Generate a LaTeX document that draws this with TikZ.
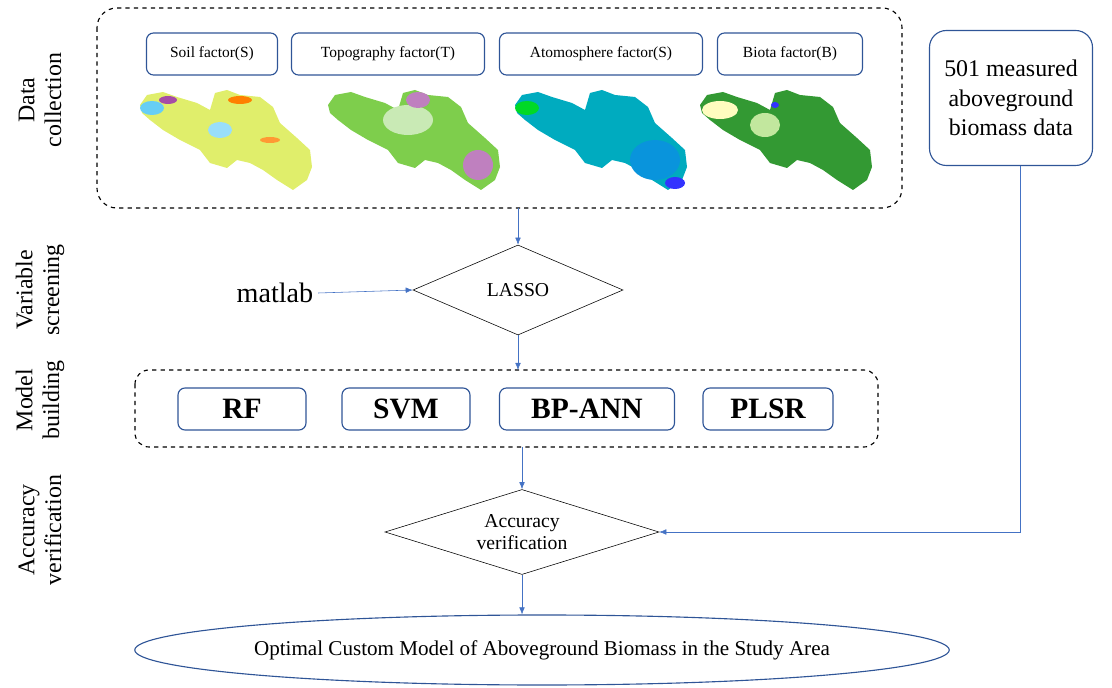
\documentclass[tikz,border=0pt]{standalone}
\usepackage{fontspec}
\setmainfont{Liberation Serif}
\usetikzlibrary{shapes.geometric,arrows.meta}
\definecolor{bx}{RGB}{47,85,151}
\definecolor{ar}{RGB}{68,114,196}
\begin{document}
\begin{tikzpicture}[x=0.025cm,y=-0.025cm,
  fbox/.style={draw=bx,rounded corners=5pt,thick,inner sep=0pt,font=\fontsize{11}{13}\selectfont},
  mbox/.style={draw=bx,rounded corners=5pt,thick,inner sep=0pt,font=\fontsize{21}{24}\selectfont\bfseries},
  dia/.style={draw,diamond,aspect=2.3,inner sep=0pt,font=\fontsize{14}{16}\selectfont,align=center},
  arr/.style={draw=ar,-{Latex[length=5pt,width=4pt]}},
  side/.style={rotate=90,align=center,font=\fontsize{17}{19}\selectfont},
  dsh/.style={draw,dashed,rounded corners=14pt,thick}]
\useasboundingbox (0,0) rectangle (1112,688);
\def\outline{(10,25)--(17,15)--(33,12)--(47,17)--(67,23)--(80,30)--(85,13)--(97,10)--(110,15)--(130,17)--(143,27)--(150,43)--(167,58)--(180,70)--(182,87)--(177,100)--(163,110)--(147,100)--(133,90)--(120,83)--(107,80)--(97,88)--(80,83)--(70,70)--(50,60)--(33,50)--(20,40)--(12,33)--cycle}
% maps
\begin{scope}[shift={(130,80)}]
 \fill[yellow!80!green!60] \outline;
 \fill[cyan!60] (22,28) ellipse (12 and 7); \fill[violet!70] (38,20) ellipse (9 and 4);
 \fill[orange] (110,20) ellipse (12 and 4); \fill[orange!80] (140,60) ellipse (10 and 3);
 \fill[cyan!40] (90,50) ellipse (12 and 8);
\end{scope}
\begin{scope}[shift={(318,80)}]
 \fill[green!45!olive!70] \outline;
 \fill[yellow!30!green!30] (90,40) ellipse (25 and 15);
 \fill[violet!50] (100,20) ellipse (12 and 8); \fill[violet!50] (160,85) ellipse (15 and 15);
\end{scope}
\begin{scope}[shift={(505,80)}]
 \fill[cyan!70!green] \outline;
 \fill[green!70!teal] (22,28) ellipse (12 and 7); \fill[cyan!80!blue] (150,80) ellipse (25 and 20);
 \fill[blue!80] (170,103) ellipse (10 and 6);
\end{scope}
\begin{scope}[shift={(690,80)}]
 \fill[green!50!black!80] \outline;
 \fill[yellow!25] (30,30) ellipse (18 and 9); \fill[yellow!40!green!40] (75,45) ellipse (15 and 12);
 \fill[blue!80] (85,25) ellipse (4 and 3);
\end{scope}
\draw[dsh] (97,8) rectangle (902,208);
\node[fbox,minimum width=131*0.025cm,minimum height=42*0.025cm] (s) at (212,54) {Soil factor(S)};
\node[fbox,minimum width=193*0.025cm,minimum height=42*0.025cm] (t) at (388,54) {Topography factor(T)};
\node[fbox,minimum width=203*0.025cm,minimum height=42*0.025cm] (a) at (601,54) {Atomosphere factor(S)};
\node[fbox,minimum width=145*0.025cm,minimum height=42*0.025cm] (b) at (790,54) {Biota factor(B)};
\node[draw=bx,thick,rounded corners=12pt,minimum width=163*0.025cm,minimum height=135*0.025cm,align=center,font=\fontsize{17}{21}\selectfont] (m) at (1011,98) {501 measured\\aboveground\\biomass data};
\coordinate (top) at (518,208);
\node[dia,minimum width=210*0.025cm,minimum height=90*0.025cm] (l) at (518,290) {LASSO};
\node[font=\fontsize{20}{22}\selectfont] (ml) at (275,293) {matlab};
\draw[dsh,rounded corners=10pt] (135,370) rectangle (878,447);
\coordinate (mt) at (518,370); \coordinate (mb) at (522,447);
\node[mbox,minimum width=128*0.025cm,minimum height=42*0.025cm] at (242,409) {RF};
\node[mbox,minimum width=128*0.025cm,minimum height=42*0.025cm] at (406,409) {SVM};
\node[mbox,minimum width=175*0.025cm,minimum height=42*0.025cm] at (587,409) {BP-ANN};
\node[mbox,minimum width=130*0.025cm,minimum height=42*0.025cm] at (768,409) {PLSR};
\node[dia,minimum width=274*0.025cm,minimum height=85*0.025cm] (acc) at (522,532) {Accuracy\\verification};
\node[draw=bx,ellipse,thick,inner sep=0pt,minimum width=758*0.025cm,minimum height=70*0.025cm,font=\fontsize{15}{17}\selectfont] (e) at (542,650) {Optimal Custom Model of Aboveground Biomass in the Study Area};
\draw[arr] (top) -- (l.north);
\draw[arr] (ml.east) -- (l.west);
\draw[arr] (l.south) -- (mt);
\draw[arr] (mb) -- (acc.north);
\draw[arr] (acc.south) -- (acc.south |- e.north);
\draw[arr] (m.south -| 1020,0) -- (1020,532) -- (acc.east);
\node[side] at (40,100) {Data\\collection};
\node[side] at (40,290) {Variable\\screening};
\node[side] at (40,400) {Model\\building};
\node[side] at (40,530) {Accuracy\\verification};
\end{tikzpicture}
\end{document}
